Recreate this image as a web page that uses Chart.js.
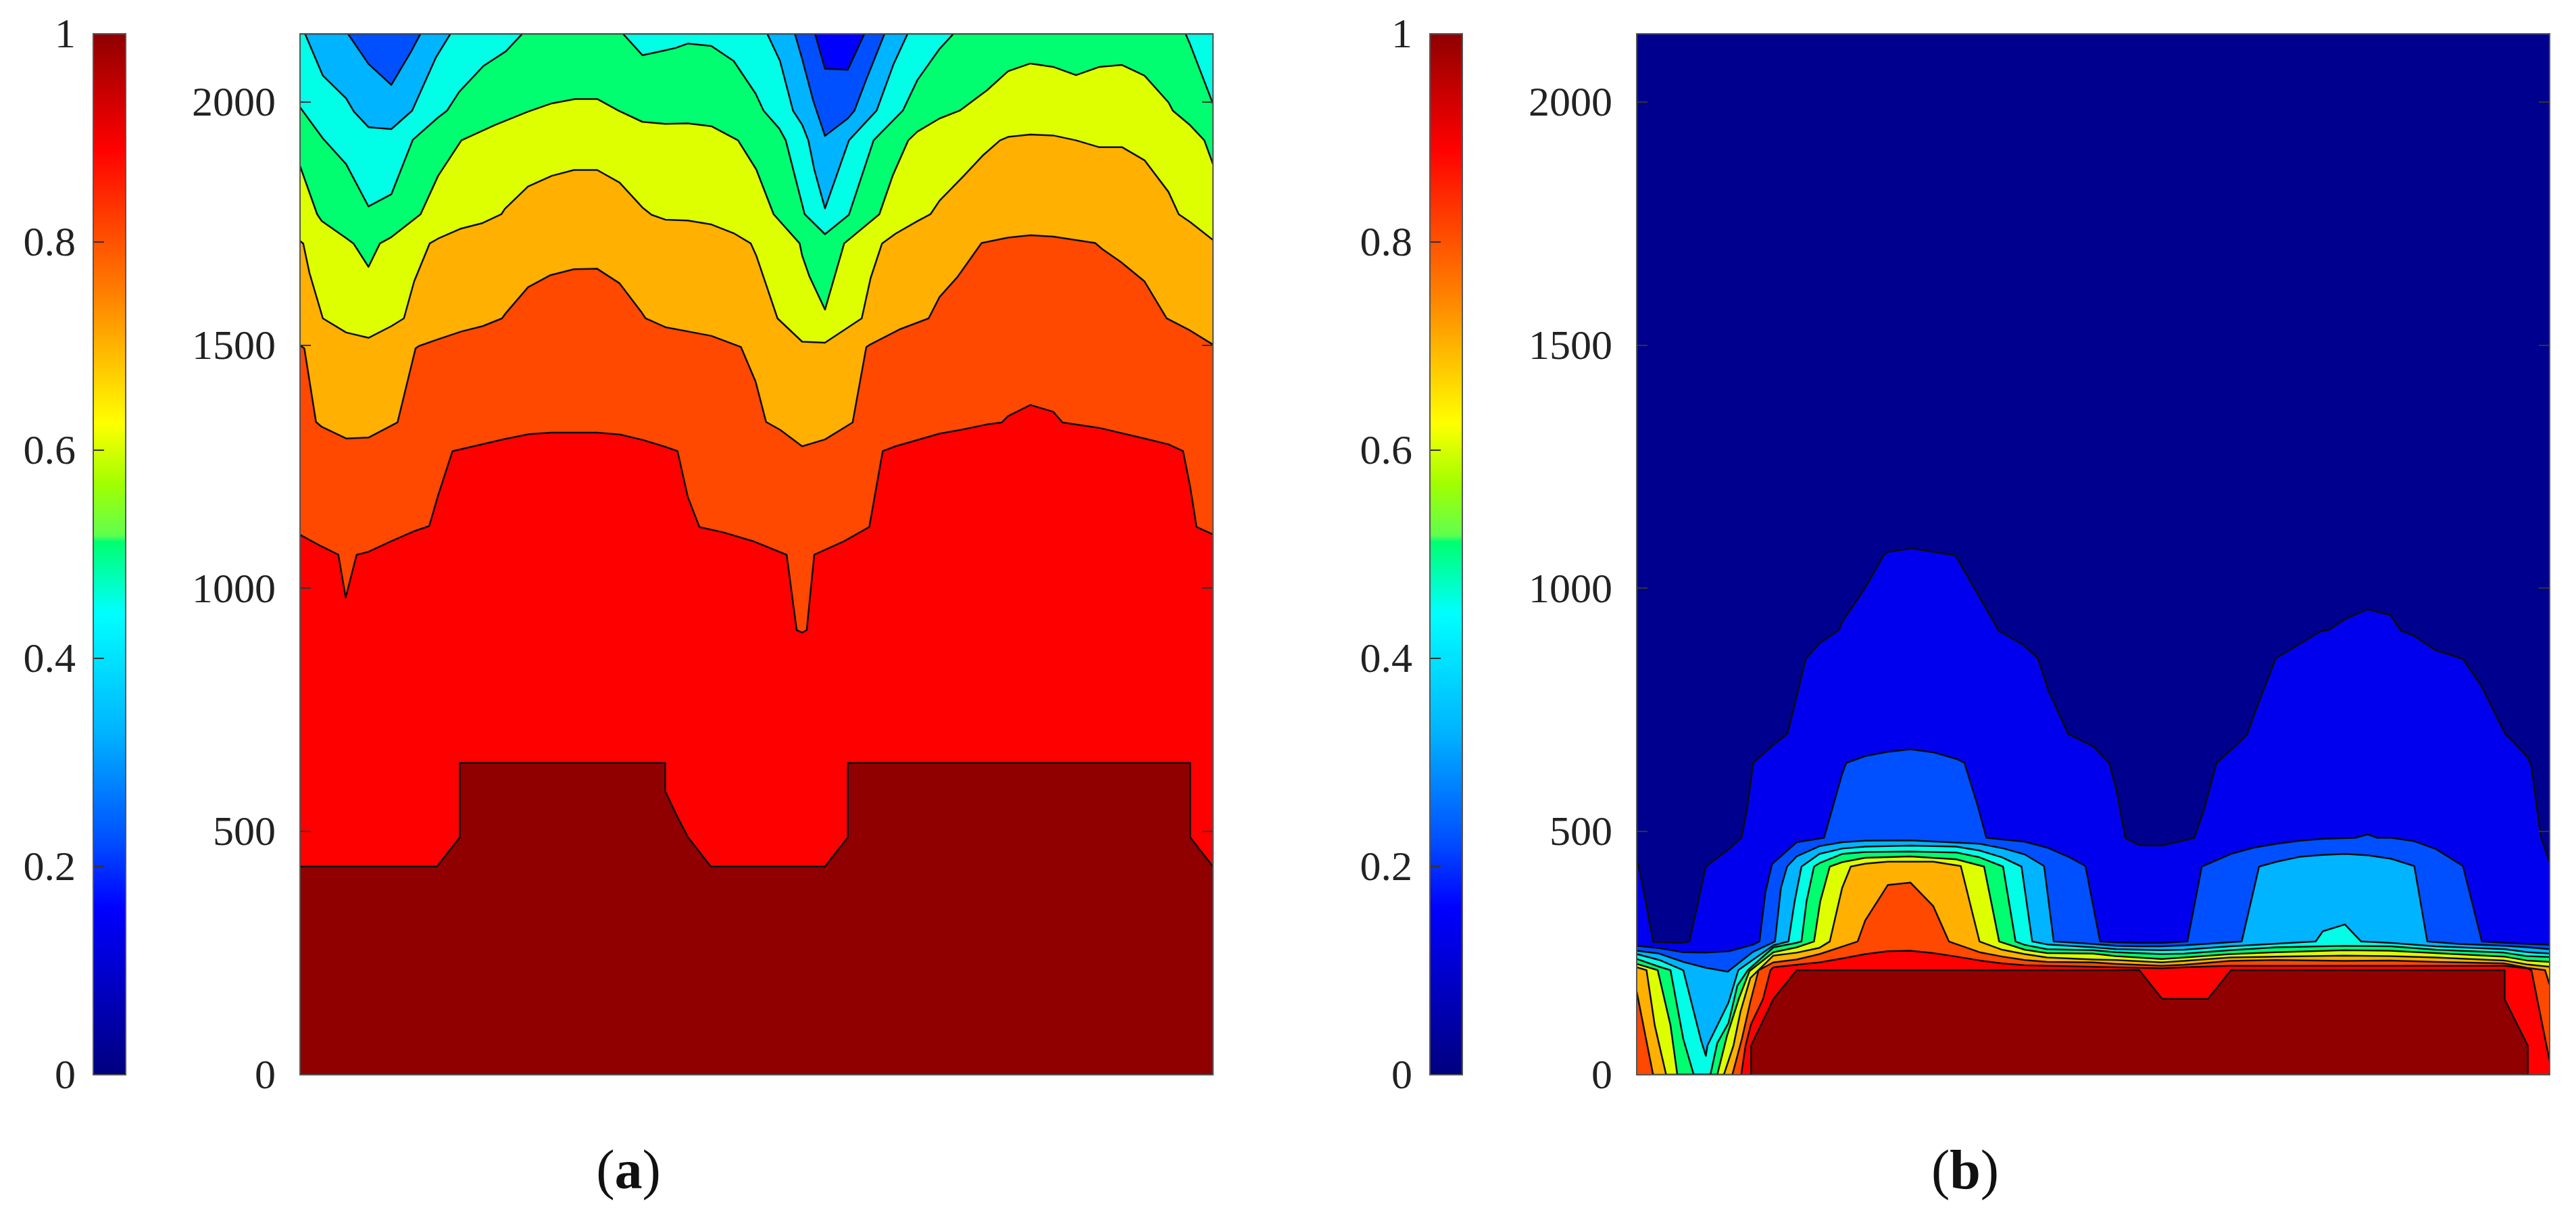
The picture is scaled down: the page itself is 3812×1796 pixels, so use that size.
<!DOCTYPE html>
<html>
<head>
<meta charset="utf-8">
<title>contours</title>
<script src="https://cdn.jsdelivr.net/npm/chart.js@4"></script>
<style>
  html, body { margin: 0; background: #fff; }
  #page { position: relative; width: 3812px; height: 1796px; overflow: hidden; }
  .box { position: absolute; }
  .cap { position: absolute; font: 82px "Liberation Serif", serif; color: #111; transform: translateX(-50%); }
  .cap b { font-weight: bold; }
</style>
</head>
<body>
<div id="page">
  <div class="box" style="left:0;top:10px;width:196px;height:1620px"><canvas id="bar-a"></canvas></div>
  <div class="box" style="left:244px;top:10px;width:1571px;height:1620px"><canvas id="contour-a"></canvas></div>
  <div class="box" style="left:1978px;top:10px;width:196px;height:1620px"><canvas id="bar-b"></canvas></div>
  <div class="box" style="left:2222px;top:10px;width:1571px;height:1620px"><canvas id="contour-b"></canvas></div>
  <div class="cap" style="left:930px;top:1684px">(<b>a</b>)</div>
  <div class="cap" style="left:2908px;top:1684px">(<b>b</b>)</div>
</div>
<script>
const contourTicks = [0, 500, 1000, 1500, 2000]
const barTicks = [0, 0.2, 0.4, 0.6, 0.8, 1]
const yMax = 2140
const xMax = 40

// colour bands, low to high
const bandColors = ['#00008f', '#0000ee', '#0050ff', '#00b4ff', '#00ffe6', '#00ff70', '#deff00', '#ffb000', '#ff4800', '#ff0000', '#900000']

const barStops = [0, 0.16, 0.226, 0.33, 0.443, 0.512, 0.518, 0.567, 0.626, 0.75, 0.89, 1]
const barColors = ['#00007f', '#0000ff', '#0050ff', '#00b4ff', '#00ffff', '#00ff70', '#60ff50', '#a0ff00', '#ffff00', '#ff8000', '#ff0000', '#8f0000']

// panel (a) contour lines as [x, depth]
const aBlue = [[0,2140],[22.56,2140],[23,2068],[24,2066],[24.73,2140],[40,2140]]
const aSky = [[0,2140],[2.1,2140],[3,2078],[4,2035],[4.86,2103],[5.28,2140],[21.68,2140],[22,2088],[22.48,2003],[23,1930],[24,1966],[24.29,1982],[24.8,2045],[25.61,2140],[40,2140]]
const aCyan = [[0,2140],[0.22,2140],[1,2054],[2.02,2007],[2.36,1980],[3,1948],[4,1944],[4.91,1982],[5.96,2092],[6.59,2140],[20.47,2140],[21.03,2084],[21.6,1982],[22,1953],[22.27,1921],[22.53,1861],[23,1781],[24.05,1921],[25.26,1982],[26,2077],[26.62,2140],[40,2140]]
const aGreen = [[0,1989],[1,1925],[2.02,1872],[3,1785],[4,1810],[4.94,1922],[6.05,1968],[6.44,1982],[6.98,2021],[8.04,2074],[9.02,2104],[9.74,2140],[14.15,2140],[15,2096],[16,2106],[16.46,2111],[17,2120],[18.02,2115],[19,2084],[19.96,2017],[20.31,1982],[21,1945],[21.28,1921],[22.11,1769],[23,1728],[24.05,1768],[25.13,1921],[26.41,1982],[27.05,2045],[28.02,2109],[28.63,2140],[38.8,2140],[39,2118],[40,1996]]
const aYellow = [[0,1868],[0.75,1769],[0.95,1755],[2.02,1720],[2.34,1709],[3,1661],[3.5,1709],[4,1722],[5.28,1769],[6.05,1848],[7.07,1921],[8.51,1952],[9.99,1980],[11.03,1997],[12.05,2006],[13.02,2006],[13.95,1982],[15,1959],[16,1955],[16.99,1956],[18.02,1950],[19.19,1921],[19.99,1861],[20.75,1769],[21.89,1709],[22,1684],[22.32,1641],[23,1573],[23.6,1670],[23.84,1709],[25.38,1769],[25.98,1850],[26.65,1921],[27.05,1939],[28.02,1966],[28.9,1982],[30.1,2024],[31.02,2063],[32,2079],[33,2072],[34,2055],[35.03,2072],[36.01,2076],[37,2054],[38.05,1999],[38.24,1982],[39,1952],[39.62,1921],[40,1872]]
const aAmber = [[0,1714],[0.14,1709],[0.41,1649],[1,1555],[2.02,1526],[3,1515],[4,1539],[4.55,1555],[5,1631],[5.68,1709],[6.05,1719],[7.02,1739],[8,1751],[8.82,1769],[8.97,1780],[9.99,1826],[11.03,1848],[12,1860],[13.02,1860],[14,1834],[15,1783],[15.4,1768],[16,1758],[16.99,1756],[18.02,1748],[19,1730],[19.75,1709],[19.99,1684],[20.92,1555],[22,1507],[23,1505],[24.61,1555],[25,1638],[25.5,1709],[26.09,1729],[27.05,1755],[27.62,1769],[28.02,1797],[29.06,1847],[29.94,1891],[30.67,1921],[31.02,1928],[32,1933],[33,1931],[34,1921],[35,1907],[36.01,1907],[37,1880],[38.05,1815],[38.5,1769],[39,1753],[40,1716]]
const aOrange = [[0,1500],[0.19,1493],[0.7,1342],[0.95,1332],[2.02,1308],[3,1310],[4.27,1341],[5.06,1493],[5.2,1498],[6.05,1512],[7.07,1528],[8,1539],[8.85,1555],[9.02,1566],[9.99,1619],[10.98,1644],[12,1656],[13.02,1657],[14,1627],[14.97,1567],[15.14,1555],[16,1537],[18.02,1519],[19.32,1496],[19.96,1425],[20.42,1342],[21.03,1326],[22,1292],[23,1306],[24.21,1341],[24.81,1496],[24.97,1501],[26.25,1532],[27.54,1555],[28.02,1599],[28.82,1641],[29.86,1710],[31.02,1721],[32,1726],[33,1723],[34.84,1710],[35.16,1697],[35.96,1671],[37,1631],[37.97,1555],[39,1530],[40,1501]]
const aRed = [[0,1110],[0.95,1086],[1.68,1069],[2,981],[2.48,1069],[2.99,1075],[4,1097],[5.03,1118],[5.66,1128],[6.05,1191],[6.68,1282],[8.97,1307],[10.04,1317],[11.03,1320],[13.02,1320],[14.04,1316],[15.02,1305],[16,1291],[16.54,1282],[16.99,1188],[17.5,1126],[18.55,1115],[19.91,1096],[21.32,1069],[21.76,914],[22,909],[22.2,914],[22.53,1069],[23.84,1097],[24.94,1126],[25.53,1282],[26.09,1292],[28.02,1318],[28.98,1326],[30.1,1337],[30.75,1341],[31.02,1354],[32,1377],[33,1363],[33.41,1341],[35,1330],[37,1308],[38.05,1296],[38.69,1282],[39,1209],[39.28,1126],[40,1111]]
const aDark = [[0,428],[6,428],[7,488],[7,641],[16,641],[16,583],[16.46,537],[17,488],[18,428],[23,428],[24,488],[24,641],[39,641],[39,488],[40,428]]

// panel (b) contour lines as [x, depth]
const bBlue = [[0,437],[0.07,433],[0.2,403],[0.73,273],[2.04,271],[2.31,274],[3.03,428],[4.02,463],[4.59,487],[4.82,542],[5.11,641],[6.03,680],[6.61,701],[7.41,855],[8.01,887],[8.86,914],[8.99,930],[10,1000],[10.84,1069],[11.03,1075],[12.03,1082],[13.96,1068],[14.8,1000],[15.86,913],[16.99,882],[17.58,856],[18.02,792],[18.9,701],[20.03,674],[20.7,641],[21.01,588],[21.41,487],[22.02,472],[23.02,471],[24.43,487],[24.84,542],[25.41,641],[26.33,680],[26.74,699],[27.09,745],[28,856],[29.99,912],[30.31,914],[31.05,937],[32.02,957],[33.03,945],[33.48,913],[34,904],[35,873],[36.2,855],[36.99,801],[38.05,701],[38.5,680],[39.05,652],[39.2,634],[39.58,501],[39.64,486],[40,437]]
const bRoyal = [[0,265],[1.05,260],[2.04,252],[3.03,251],[4.04,254],[5.07,267],[5.38,274],[5.64,375],[5.93,433],[7.01,478],[8.21,487],[9,618],[9.18,641],[10.01,655],[11,664],[11.99,669],[12.99,663],[14.03,649],[14.36,641],[14.95,551],[15.32,487],[17,479],[17.98,467],[18.97,447],[19.66,429],[20.3,274],[21.01,272],[22.02,271],[23.02,271],[24.13,274],[24.76,428],[26.04,454],[27.04,467],[28.05,475],[29.05,481],[30.06,485],[31.47,487],[32.03,494],[32.45,487],[33.06,487],[34.07,480],[35.02,464],[36.2,429],[37.03,274],[38.06,271],[39.07,269],[40,267]]
const bSky = [[0,255],[0.99,249],[2.04,232],[3.03,220],[3.99,212],[4.45,229],[5.07,252],[6.06,274],[6.32,384],[6.59,428],[7.01,449],[8.01,470],[9,478],[10.01,481],[11.99,482],[15.02,475],[16.01,466],[17,453],[17.85,429],[18.27,274],[20,269],[21,265],[22,264],[23,264],[24.03,266],[26.51,274],[27.27,428],[28.05,438],[29.05,448],[30.06,452],[31.07,454],[32.07,451],[33.06,444],[34.07,429],[34.64,274],[36.03,269],[38.06,265],[39.07,262],[40,258]]
const bCyan = [[0,248],[0.99,236],[2.04,215],[2.83,69],[3.03,39],[3.1,60],[4.02,148],[4.45,215],[5.99,266],[6.65,274],[6.92,356],[7.22,428],[8.01,454],[9,465],[10.01,469],[11.99,471],[14,469],[15.02,461],[16.01,447],[16.86,428],[17.33,274],[17.98,268],[20,262],[21,258],[23,256],[24,257],[26,264],[29.75,274],[30.06,295],[31.03,309],[31.74,274],[33.06,271],[35,264],[38.03,258],[39.07,252],[40,249]]
const bGreen = [[0,238],[0.99,222],[1.48,215],[2.04,74],[2.5,0],[3.23,0],[3.53,65],[4.02,106],[4.41,183],[4.87,215],[5.99,262],[6.98,271],[7.22,274],[7.44,356],[7.77,428],[8.01,435],[9,454],[10.01,458],[11.99,459],[14,457],[15.02,447],[16.05,428],[16.6,274],[17,267],[17.98,258],[20,256],[21,252],[23,248],[24,249],[26,256],[28,262],[31,265],[33.06,264],[35,257],[38,251],[39,244],[40,242]]
const bYellow = [[0,228],[0.92,215],[1.48,102],[1.78,0],[3.53,0],[3.95,79],[4.48,157],[4.94,213],[5.99,252],[7.01,262],[7.77,274],[8.04,356],[8.46,428],[9,437],[10.01,446],[11.99,449],[14,443],[15.22,428],[15.88,274],[17,257],[17.98,250],[20,249],[21,244],[23,238],[24,241],[26,248],[28,252],[31,256],[33,255],[35,250],[38,243],[39,235],[40,232]]
const bAmber = [[0,221],[0.43,215],[0.79,102],[1.29,0],[3.82,0],[4.24,60],[4.55,130],[4.98,199],[5.99,245],[7.01,251],[8.01,261],[8.46,274],[9,384],[9.38,428],[10.01,434],[11,438],[12.99,438],[14.2,429],[15.02,274],[16.01,257],[17,248],[17.98,241],[20,237],[21,236],[23,231],[24,234],[26,241],[28,243],[31,245],[33,244],[35,241],[38,235],[39,227],[40,222]]
const bOrange = [[0,171],[0.72,0],[4.19,0],[4.61,74],[4.98,150],[5.34,215],[5.99,231],[7.01,237],[8.01,248],[9.68,274],[10.01,317],[11,390],[11.99,395],[12.99,347],[13.68,274],[15.02,252],[16.01,243],[17,236],[17.98,232],[20,231],[21,228],[23,224],[24,226],[26,234],[28,236],[31,234],[33,235],[35,232],[38,229],[39,220],[39.8,215],[40,185]]
const bRed = [[4.58,0],[4.77,60],[5.01,104],[5.53,155],[5.86,215],[5.99,221],[7.01,226],[8.01,231],[9,239],[10.01,248],[11,254],[11.99,255],[12.99,250],[14,243],[15.02,235],[16.01,229],[17,225],[17.98,224],[20,222],[23,219],[24,221],[26,224],[31,224],[35,224],[38,224],[39,219],[39.2,215],[40,28]]
const bDark = [[5.01,0],[5.01,60],[5.99,156],[7.01,215],[22.02,215],[23.02,156],[25.03,156],[26.04,215],[38.03,215],[38.03,155],[39.04,60],[39.04,0]]

const aLines = [[[0, yMax], [xMax, yMax]], aBlue, aSky, aCyan, aGreen, aYellow, aAmber, aOrange, aRed, aDark]
const aColors = ['#0000ff'].concat(bandColors.slice(2))
const bLines = [[[0, yMax], [xMax, yMax]], bBlue, bRoyal, bSky, bCyan, bGreen, bYellow, bAmber, bOrange, bRed, bDark]

const tickFont = { family: '"Liberation Serif", serif', size: 62 }

// frame and inward ticks, matlab style
const framePlugin = {
    id: 'frame',
    afterDatasetsDraw(chart, args, opts) {
        const { ctx, chartArea: area, scales } = chart
        ctx.save()
        ctx.strokeStyle = '#333'
        ctx.lineWidth = 2
        scales.y.ticks.forEach(tick => {
            const y = Math.round(scales.y.getPixelForValue(tick.value))
            if (y <= area.top || y >= area.bottom) return
            ctx.beginPath()
            ctx.moveTo(area.left, y)
            ctx.lineTo(area.left + 16, y)
            if (opts.both) {
                ctx.moveTo(area.right, y)
                ctx.lineTo(area.right - 16, y)
            }
            ctx.stroke()
        })
        ctx.strokeStyle = '#555'
        ctx.strokeRect(area.left, area.top, area.right - area.left, area.bottom - area.top)
        ctx.restore()
    }
}

function yAxis(min, max, ticks, width, gap) {
    return {
        min: min,
        max: max,
        afterBuildTicks: scale => { scale.ticks = ticks.map(v => ({ value: v })) },
        // fixed box so the plot area lands where it should, labels may hang over
        afterFit: scale => {
            scale.width = width
            scale.paddingTop = 0
            scale.paddingBottom = 0
        },
        grid: { display: false, drawTicks: false },
        border: { display: false },
        ticks: {
            font: tickFont,
            color: '#222',
            padding: gap,
            labelOffset: 4,
            maxRotation: 0,
            autoSkip: false,
            callback: v => String(v)
        }
    }
}

function contourChart(id, lines, colors) {
    return new Chart(document.getElementById(id), {
        type: 'line',
        data: {
            datasets: lines.map((line, i) => ({
                data: line.map(p => ({ x: p[0], y: p[1] })),
                order: -i,
                fill: 'start',
                backgroundColor: colors[i],
                borderColor: i === 0 ? colors[0] : '#0c0c0c',
                borderWidth: 2.5,
                borderJoinStyle: 'round',
                pointRadius: 0,
                tension: 0
            }))
        },
        options: {
            responsive: true,
            maintainAspectRatio: false,
            animation: false,
            layout: { padding: { top: 40, right: 20, bottom: 40, left: 0 } },
            scales: {
                x: { type: 'linear', min: 0, max: xMax, display: false },
                y: yAxis(0, yMax, contourTicks, 200, 36)
            },
            plugins: { legend: { display: false }, tooltip: { enabled: false }, frame: { both: true } }
        },
        plugins: [framePlugin]
    })
}

function colorBar(id) {
    return new Chart(document.getElementById(id), {
        type: 'bar',
        data: {
            labels: ['bar'],
            datasets: [{
                data: [1],
                barPercentage: 1,
                categoryPercentage: 1,
                backgroundColor: c => {
                    const area = c.chart.chartArea
                    if (!area) return '#fff'
                    const g = c.chart.ctx.createLinearGradient(0, area.bottom, 0, area.top)
                    barStops.forEach((s, i) => g.addColorStop(s, barColors[i]))
                    return g
                }
            }]
        },
        options: {
            responsive: true,
            maintainAspectRatio: false,
            animation: false,
            layout: { padding: { top: 40, right: 10, bottom: 40, left: 0 } },
            scales: {
                x: { display: false },
                y: yAxis(0, 1, barTicks, 138, 26)
            },
            plugins: { legend: { display: false }, tooltip: { enabled: false }, frame: { both: false } }
        },
        plugins: [framePlugin]
    })
}

colorBar('bar-a')
contourChart('contour-a', aLines, aColors)
colorBar('bar-b')
contourChart('contour-b', bLines, bandColors)
</script>
</body>
</html>
